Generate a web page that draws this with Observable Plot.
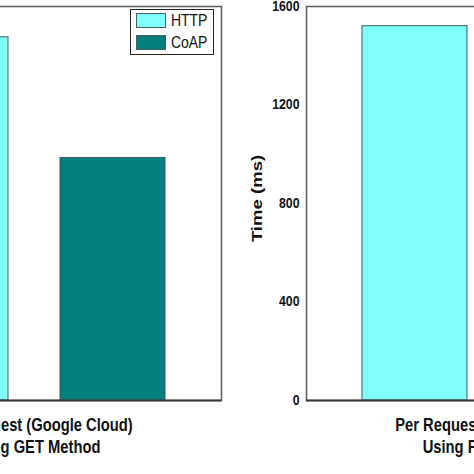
<!DOCTYPE html>
<html>
<head>
<meta charset="utf-8">
<script src="https://cdn.jsdelivr.net/npm/d3@7"></script>
<script src="https://cdn.jsdelivr.net/npm/@observablehq/plot@0.6"></script>
<style>
  html, body { margin: 0; padding: 0; background: #fff; }
  #page { position: relative; width: 474px; height: 474px; overflow: hidden; background: #fff; }
  .panel { position: absolute; top: 0; width: 454px; height: 474px; }
  .panel svg { max-width: none !important; display: block; }
  #legend { position: absolute; left: 130px; top: 9px; width: 84px; height: 46px; box-sizing: border-box;
            border: 1.5px solid #222; background: #fff; font-family: "Liberation Sans", Arial, sans-serif; }
  .sw { position: absolute; left: 5px; width: 30px; height: 15px; box-sizing: border-box; border: 1px solid #4a5f5f; }
  .lt { position: absolute; left: 40px; font-size: 17px; line-height: 15px; color: #111;
        transform: scaleX(0.82); transform-origin: left center; white-space: nowrap; }
</style>
</head>
<body>
<div id="page"></div>
<script>
// ---- data ----
const methods = ["GET", "POST"];
const protocols = ["HTTP", "CoAP"];
const httpTimes = [1475, 1520];
const coapTimes = [985, null]; // POST / CoAP bar lies outside the visible crop
const panelTitles = [
  "Per Request (Google Cloud)\nUsing GET Method",
  "Per Request (Google Cloud)\nUsing POST Method"
];
const yTicks = [0, 400, 800, 1200, 1600];
const yLabel = "Time (ms)";
const colors = ["#80ffff", "#007f7f"];

const FONT = '"Liberation Sans", Arial, sans-serif';
const page = document.getElementById("page");

// scale a text element about its anchor point (optionally nudged first)
function scaleText(el, sx, sy, nudge) {
  let t = el.getAttribute("transform") || "";
  const x = el.getAttribute("x"), y = el.getAttribute("y");
  if (x != null || y != null) {
    t += ` translate(${+x || 0},${+y || 0})`;
    el.removeAttribute("x"); el.removeAttribute("y");
  }
  if (nudge) t += ` translate(${nudge[0]},${nudge[1]})`;
  el.setAttribute("transform", (t + ` scale(${sx},${sy})`).trim());
}

function chart(i) {
  const series = [httpTimes, coapTimes];
  const rows = protocols
    .map((p, j) => ({method: methods[i], protocol: p, value: series[j][i]}))
    .filter(d => d.value != null);
  const svg = Plot.plot({
    width: 454, height: 474,
    marginLeft: 70, marginRight: 10, marginTop: 6, marginBottom: 74,
    style: {background: "transparent", fontFamily: FONT, color: "#111", overflow: "visible", maxWidth: "none"},
    x: {domain: protocols, paddingInner: 1/3, paddingOuter: 0.354, axis: null},
    y: {domain: [0, 1600]},
    color: {domain: protocols, range: colors},
    marks: [
      Plot.barY(rows, {x: "protocol", y: "value", fill: "protocol", stroke: "#3f5c5c", strokeWidth: 1}),
      Plot.frame({stroke: "#5e5e5e", strokeWidth: 1.5}),
      Plot.ruleY([0], {stroke: "#3a3a3a", strokeWidth: 2}),
      Plot.axisY({ticks: yTicks, tickFormat: d => String(d), tickSize: 0, tickPadding: 7,
                  fontSize: 15, fontWeight: "bold",
                  label: yLabel, labelAnchor: "center", labelOffset: 45, labelArrow: "none"}),
      Plot.text([panelTitles[i]], {text: d => d, frameAnchor: "bottom", lineAnchor: "top", dy: 15,
                  fontSize: 18, fontWeight: "bold", lineHeight: 1.22, fill: "#111"})
    ]
  });
  const sel = d3.select(svg);
  // y-axis label: stretched along its length
  sel.selectAll('g[aria-label="y-axis label"] text')
    .attr("font-size", 14.5)
    .attr("font-weight", "bold")
    .each(function() { scaleText(this, 1.28, 1, [5, 0]); });
  // tick labels: condensed and nudged down slightly
  sel.selectAll('g[aria-label="y-axis tick label"] text')
    .each(function() { scaleText(this, 0.82, 1, [0, 4]); });
  // panel titles: condensed
  sel.selectAll('g[aria-label="text"] text')
    .each(function() { scaleText(this, 0.82, 1); });
  return svg;
}

const offsets = [-223, 236];
methods.forEach((m, i) => {
  const wrap = document.createElement("div");
  wrap.className = "panel";
  wrap.style.left = offsets[i] + "px";
  wrap.appendChild(chart(i));
  page.appendChild(wrap);
});

// legend (HTML, generated from the series names and colours)
const legend = document.createElement("div");
legend.id = "legend";
protocols.forEach((p, j) => {
  const sw = document.createElement("div");
  sw.className = "sw";
  sw.style.top = (3 + j * 22) + "px";
  sw.style.background = colors[j];
  const t = document.createElement("div");
  t.className = "lt";
  t.style.top = (3 + j * 22) + "px";
  t.textContent = p;
  legend.appendChild(sw);
  legend.appendChild(t);
});
page.appendChild(legend);
</script>
</body>
</html>
